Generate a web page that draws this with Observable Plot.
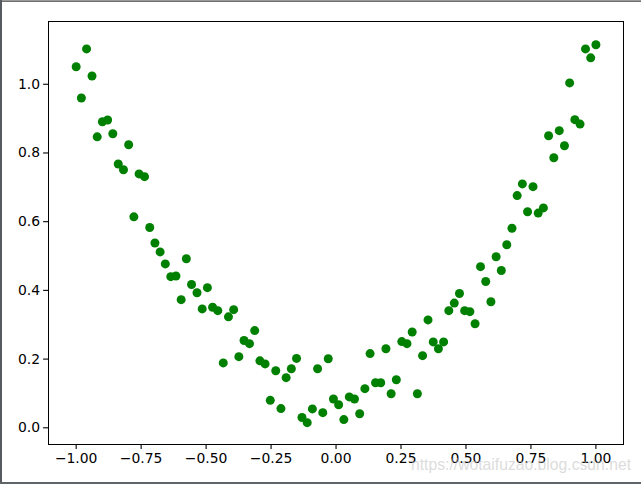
<!DOCTYPE html>
<html>
<head>
<meta charset="utf-8">
<script src="https://cdn.jsdelivr.net/npm/d3@7"></script>
<script src="https://cdn.jsdelivr.net/npm/@observablehq/plot@0.6"></script>
<style>
  html, body { margin: 0; padding: 0; background: white; overflow: hidden; }
  #wrap { position: relative; width: 641px; height: 484px; }
  #wrap svg { position: absolute; left: 0; top: 0; }
  .edge { position: absolute; }
  #wm { position: absolute; left: 411px; top: 455px; font-family: "Liberation Sans", sans-serif; font-size: 17px; color: rgba(190,190,190,0.55); white-space: nowrap; transform-origin: 0 0; }
</style>
</head>
<body>
<div id="wrap"></div>
<script>
const xs = [
  -1.000, -0.980, -0.960, -0.939, -0.919, -0.899, -0.879, -0.859, -0.838, -0.818,
  -0.798, -0.778, -0.758, -0.737, -0.717, -0.697, -0.677, -0.657, -0.636, -0.616,
  -0.596, -0.576, -0.556, -0.535, -0.515, -0.495, -0.475, -0.455, -0.434, -0.414,
  -0.394, -0.374, -0.354, -0.333, -0.313, -0.293, -0.273, -0.253, -0.232, -0.212,
  -0.192, -0.172, -0.152, -0.131, -0.111, -0.091, -0.071, -0.051, -0.030, -0.010,
   0.010,  0.030,  0.051,  0.071,  0.091,  0.111,  0.131,  0.152,  0.172,  0.192,
   0.212,  0.232,  0.253,  0.273,  0.293,  0.313,  0.333,  0.354,  0.374,  0.394,
   0.414,  0.434,  0.455,  0.475,  0.495,  0.515,  0.535,  0.556,  0.576,  0.596,
   0.616,  0.636,  0.657,  0.677,  0.697,  0.717,  0.737,  0.758,  0.778,  0.798,
   0.818,  0.838,  0.859,  0.879,  0.899,  0.919,  0.939,  0.960,  0.980,  1.000
];
const ys = [
  1.051, 0.960, 1.103, 1.024, 0.847, 0.891, 0.896, 0.856, 0.768, 0.751,
  0.824, 0.614, 0.739, 0.731, 0.583, 0.538, 0.512, 0.477, 0.440, 0.442,
  0.373, 0.492, 0.417, 0.393, 0.346, 0.408, 0.351, 0.341, 0.189, 0.323,
  0.344, 0.207, 0.254, 0.245, 0.283, 0.195, 0.186, 0.080, 0.166, 0.056,
  0.146, 0.172, 0.202, 0.030, 0.015, 0.055, 0.172, 0.044, 0.201, 0.084,
  0.067, 0.024, 0.090, 0.084, 0.041, 0.114, 0.216, 0.131, 0.131, 0.230,
  0.099, 0.140, 0.251, 0.245, 0.279, 0.099, 0.210, 0.314, 0.250, 0.230,
  0.250, 0.341, 0.363, 0.391, 0.341, 0.338, 0.303, 0.469, 0.426, 0.367,
  0.498, 0.458, 0.533, 0.581, 0.676, 0.710, 0.629, 0.702, 0.625, 0.640,
  0.850, 0.786, 0.865, 0.821, 1.004, 0.897, 0.884, 1.103, 1.077, 1.115
];
const xTicks = [-1.0, -0.75, -0.5, -0.25, 0.0, 0.25, 0.5, 0.75, 1.0];
const yTicks = [0.0, 0.2, 0.4, 0.6, 0.8, 1.0];

const points = xs.map((x, i) => ({x, y: ys[i]}));

const chart = Plot.plot({
  width: 641,
  height: 484,
  marginLeft: 48,
  marginRight: 18,
  marginTop: 21,
  marginBottom: 40,
  style: {fontFamily: "DejaVu Sans, sans-serif", fontSize: "13.9px", color: "black", background: "white", overflow: "visible"},
  x: {domain: [-1.1065, 1.1062]},
  y: {domain: [-0.0486, 1.1827]},
  marks: [
    Plot.dot(points, {x: "x", y: "y", r: 4.5, fill: "#008000", stroke: "none"}),
    Plot.frame({stroke: "black", strokeWidth: 1}),
    Plot.axisX({ticks: xTicks, tickFormat: d3.format(".2f"), tickSize: 4.9, tickPadding: 3.5, label: null, fontSize: 13.9, strokeWidth: 1.1}),
    Plot.axisY({ticks: yTicks, tickFormat: d3.format(".1f"), tickSize: 4.9, tickPadding: 3.5, label: null, fontSize: 13.9, strokeWidth: 1.1})
  ]
});

const wrap = document.getElementById("wrap");
wrap.appendChild(chart);

const wm = document.createElement("div");
wm.id = "wm";
wm.textContent = "https://wotaifuzao.blog.csdn.net";
wrap.appendChild(wm);
const w = wm.getBoundingClientRect().width;
if (w > 0) wm.style.transform = `scaleX(${220 / w})`;

function edge(l, t, w, h, c) {
  const e = document.createElement("div");
  e.className = "edge";
  Object.assign(e.style, {left: l + "px", top: t + "px", width: w + "px", height: h + "px", background: c});
  wrap.appendChild(e);
}
edge(0, 0, 641, 1, "#9a9a9a");
edge(0, 1, 641, 1, "#6f6f6f");
edge(0, 0, 2, 484, "#555b60");
edge(0, 482, 641, 2, "#5f6468");
</script>
</body>
</html>
